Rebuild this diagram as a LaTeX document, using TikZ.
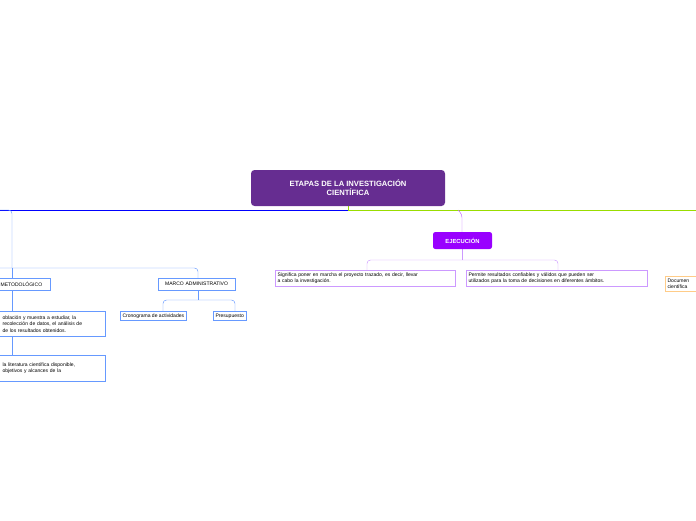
\documentclass[tikz,border=0pt]{standalone}
\usepackage{fontspec}
\setmainfont{Liberation Sans}
\usetikzlibrary{calc}
\definecolor{rootc}{HTML}{662D91}
\definecolor{ejec}{HTML}{9900FF}
\definecolor{lila}{HTML}{CC99FF}
\definecolor{azul}{HTML}{6699FF}
\definecolor{verde}{HTML}{99DD00}
\definecolor{naranja}{HTML}{FFCC88}
\tikzset{ root/.style = { rectangle
                       , rounded corners = 3pt
                       , fill = rootc
                       , text = white
                       , font = \bfseries\fontsize{6.5}{7.5}\selectfont
                       , align = center
                       , minimum width = 194*0.03cm
                       , minimum height = 36*0.03cm
                       },
          main/.style = { rectangle
                       , rounded corners = 2pt
                       , fill = ejec
                       , text = white
                       , font = \bfseries\fontsize{5}{6}\selectfont
                       , minimum width = 59*0.03cm
                       , minimum height = 17*0.03cm
                       },
          leaf/.style = { rectangle
                       , draw
                       , fill = white
                       , thin
                       , anchor = north west
                       , align = left
                       , inner sep = 2pt
                       , font = \fontsize{4.3}{5.6}\selectfont
                       },
          lk/.style = { rounded corners = 3pt, thin }
        }
\begin{document}
\begin{tikzpicture}[x=0.03cm, y=-0.03cm]
    \useasboundingbox (0,0) rectangle (696,520);
    \clip (0,0) rectangle (696,520);
    % connectors from the root
    \draw[blue, thin] (0,210) -- (348,210);
    \draw[verde, thin] (348,206) -- (348,210) -- (696,210);
    \draw[lk, ejec!60] (458,210) -- (462,214) -- (462,232);
    \draw[lk, azul] (0,210) -| (12,268);
    \draw[lk, azul] (-20,268) -| (198,278);
    \draw[lk, azul] (12,268) -- (12,278);
    \draw[lk, azul] (12,290) -- (12,355);
    \draw[lk, azul] (198,290) -- (198,300);
    \draw[lk, azul] (163,311) |- (235,300) -- (235,311);
    \draw[lk, lila] (462,249) -- (462,260);
    \draw[lk, lila] (367,270) |- (558,260) -- (558,270);
    % nodes
    \node[root] (etapas) at (348,188) {ETAPAS DE LA INVESTIGACIÓN\\CIENTÍFICA};
    \node[main] (ejecucion) at (462.5,240.5) {EJECUCIÓN};
    \node[leaf, draw=lila, text width=5.25cm] (signif) at (275,270)
        {Significa poner en marcha el proyecto trazado, es decir, llevar\\a cabo la investigación.};
    \node[leaf, draw=lila, text width=5.28cm] (permite) at (466,270)
        {Permite resultados confiables y válidos que pueden ser\\utilizados para la toma de decisiones en diferentes ámbitos.};
    \node[leaf, draw=naranja, text width=1.2cm] (docum) at (665,276)
        {Documen\\científica};
    \node[leaf, draw=azul, text width=2.25cm, minimum height=12*0.03cm] (metodo) at (-30,278)
        {\hspace*{0.84cm}METODOLÓGICO};
    \node[leaf, draw=azul, text width=2.16cm, minimum height=12*0.03cm, align=center] (marco) at (158,278)
        {MARCO ADMINISTRATIVO};
    \node[leaf, draw=azul] (crono) at (120,311) {Cronograma de actividades};
    \node[leaf, draw=azul] (presu) at (213,311) {Presupuesto};
    \node[leaf, draw=azul, text width=3.9cm, minimum height=25*0.03cm] (poblac) at (-30,311)
        {\hspace*{0.9cm}oblación y muestra a estudiar, la\\\hspace*{0.9cm}recolección de datos, el análisis de\\\hspace*{0.9cm}de los resultados obtenidos.};
    \node[leaf, draw=azul, text width=3.9cm, minimum height=26*0.03cm] (literat) at (-30,355)
        {\hspace*{0.9cm}la literatura científica disponible,\\\hspace*{0.9cm}objetivos y alcances de la};
\end{tikzpicture}
\end{document}
